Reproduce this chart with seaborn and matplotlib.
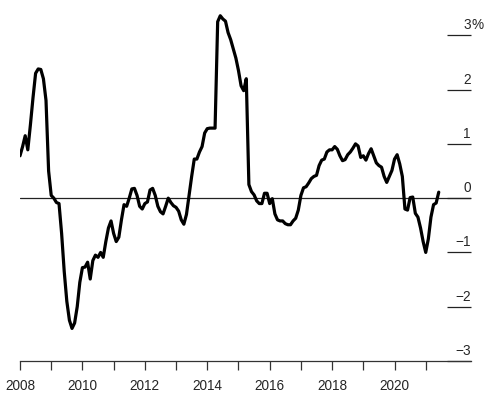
import numpy as np
import pandas as pd
import matplotlib
matplotlib.use("Agg")
import matplotlib.pyplot as plt
import seaborn as sns

# Monthly values, Jan 2008 onwards (percent)
vals_2008 = [0.78, 0.95, 1.15, 0.89, 1.35, 1.85, 2.30, 2.38, 2.37, 2.20, 1.80, 0.50]
vals_2009 = [0.05, 0.00, -0.08, -0.10, -0.65, -1.35, -1.90, -2.25, -2.40, -2.30, -2.00, -1.55]
vals_2010 = [-1.28, -1.27, -1.18, -1.49, -1.15, -1.05, -1.09, -1.00, -1.09, -0.80, -0.55, -0.42]
vals_2011 = [-0.65, -0.80, -0.72, -0.40, -0.12, -0.15, 0.00, 0.17, 0.18, 0.05, -0.15, -0.20]
vals_2012 = [-0.10, -0.07, 0.15, 0.18, 0.05, -0.15, -0.25, -0.29, -0.15, 0.00, -0.08, -0.14]
vals_2013 = [-0.17, -0.24, -0.40, -0.48, -0.30, 0.05, 0.40, 0.72, 0.72, 0.85, 0.95, 1.20]
vals_2014 = [1.28, 1.29, 1.29, 1.29, 3.25, 3.36, 3.30, 3.26, 3.05, 2.92, 2.75, 2.58]
vals_2015 = [2.35, 2.07, 1.98, 2.20, 0.25, 0.12, 0.06, -0.05, -0.10, -0.10, 0.09, 0.09]
vals_2016 = [-0.10, -0.01, -0.29, -0.40, -0.42, -0.42, -0.47, -0.49, -0.49, -0.42, -0.37, -0.22]
vals_2017 = [0.05, 0.19, 0.21, 0.28, 0.36, 0.40, 0.42, 0.60, 0.70, 0.72, 0.85, 0.89]
vals_2018 = [0.89, 0.95, 0.90, 0.78, 0.69, 0.71, 0.80, 0.85, 0.92, 1.00, 0.96, 0.75]
vals_2019 = [0.78, 0.70, 0.82, 0.91, 0.78, 0.65, 0.60, 0.57, 0.40, 0.29, 0.40, 0.51]
vals_2020 = [0.72, 0.80, 0.63, 0.40, -0.20, -0.22, 0.01, 0.02, -0.28, -0.35, -0.55, -0.80]
vals_2021 = [-1.00, -0.75, -0.35, -0.12, -0.09, 0.11]

values = (vals_2008 + vals_2009 + vals_2010 + vals_2011 + vals_2012 + vals_2013 + vals_2014
          + vals_2015 + vals_2016 + vals_2017 + vals_2018 + vals_2019 + vals_2020 + vals_2021)

year_ticks = list(range(2008, 2022))
year_labels = [str(y) if y % 2 == 0 else "" for y in year_ticks]
y_ticks = [-3, -2, -1, 0, 1, 2, 3]
y_labels = ["\u22123", "\u22122", "\u22121", "0", "1", "2", "3"]

df = pd.DataFrame({"year": 2008 + np.arange(len(values)) / 12, "value": values})

sns.set_style("white")
plt.rcParams["font.family"] = ["Liberation Sans", "DejaVu Sans"]

fig = plt.figure(figsize=(4.96, 4.08), dpi=100)
ax = fig.add_axes([20 / 496, 1 - 361 / 408, 451 / 496, 361 / 408])

ax.axhline(0, color="#222222", linewidth=0.9, zorder=1)
sns.lineplot(data=df, x="year", y="value", color="black", linewidth=2.3, ax=ax, zorder=3)

ax.set_xlim(2008, 2022.45)
ax.set_ylim(-3, 3.65)

for s in ["left", "top", "right"]:
    ax.spines[s].set_visible(False)
ax.spines["bottom"].set_color("#333333")
ax.spines["bottom"].set_linewidth(0.9)

ax.set_xticks(year_ticks)
ax.set_xticklabels(year_labels, fontsize=9.8)
ax.tick_params(axis="x", bottom=True, direction="out", length=6.5, width=0.9,
               color="#333333", pad=6.5)

# y ticks: short lines inside the right edge, labels sit above them
ax.set_yticks(y_ticks)
ax.tick_params(axis="y", left=False, right=True, labelleft=False, labelright=False,
               direction="in", length=17.5, width=0.9, color="#222222")
for v, lab in zip(y_ticks, y_labels):
    ax.annotate(lab, xy=(1, v), xycoords=("axes fraction", "data"), xytext=(0, 7.2),
                textcoords="offset points", ha="right", va="center", fontsize=9.8)
ax.annotate("%", xy=(1, 3), xycoords=("axes fraction", "data"), xytext=(0, 7.2),
            textcoords="offset points", ha="left", va="center", fontsize=9.8)

ax.set_xlabel("")
ax.set_ylabel("")

fig.savefig("out.png", dpi=100)
